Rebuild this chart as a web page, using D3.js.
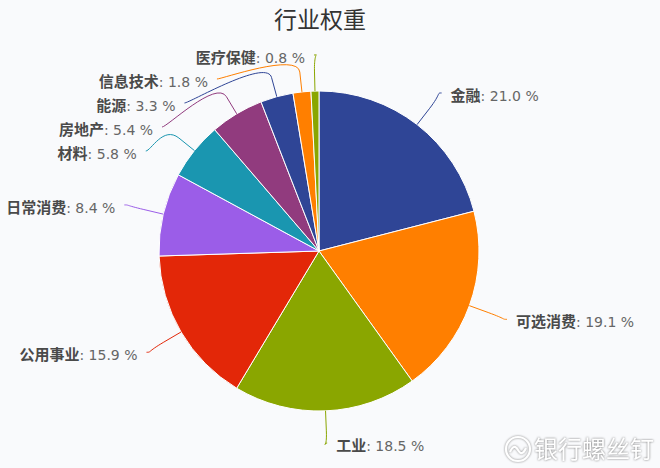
<!DOCTYPE html>
<html><head><meta charset="utf-8">
<script src="https://cdn.jsdelivr.net/npm/d3@7"></script>
<style>
html,body{margin:0;padding:0;background:#f9fafc;}
svg{display:block;}
</style></head>
<body>
<svg id="chart" width="660" height="468"></svg>
<script>
const title = "行业权重";
const categories = ["金融","可选消费","工业","公用事业","日常消费","材料","房地产","能源","信息技术","医疗保健"];
const values = [21.0,19.1,18.5,15.9,8.4,5.8,5.4,3.3,1.8,0.8];
const palette = ["#2f4596","#ff7f00","#8aa600","#e32708","#9b5de8","#1a96b0","#913b7e"];
const watermark = "银行螺丝钉";

(function(){
const W = 660, H = 468;
const cx = 319, cy = 251, r = 160, dist = 40, R = r + dist;
const svg = d3.select("#chart");
svg.append("rect").attr("width",W).attr("height",H).attr("fill","#f9fafc");

svg.append("text").attr("x",320).attr("y",28).attr("text-anchor","middle")
  .attr("font-family","'Noto Sans CJK SC','DejaVu Sans',sans-serif").attr("font-size",23)
  .attr("fill","#333").text(title);

const data = categories.map((c,i)=>({name:c,value:values[i],color:palette[i%palette.length]}));
const pie = d3.pie().value(d=>d.value).sort(null).startAngle(0).endAngle(2*Math.PI);
const arcs = pie(data);
const arc = d3.arc().innerRadius(0).outerRadius(r);
const g = svg.append("g").attr("transform",`translate(${cx},${cy})`);
g.selectAll("path").data(arcs).join("path")
  .attr("d",arc).attr("fill",d=>d.data.color)
  .attr("stroke","#ffffff").attr("stroke-width",1).attr("stroke-linejoin","round");

const pt = (a,rho)=>({x:cx+rho*Math.sin(a), y:cy-rho*Math.cos(a)});
const labels = arcs.map(d=>{
  const a=(d.startAngle+d.endAngle)/2;
  const nat=pt(a,R);
  return {d, a, left: a>Math.PI, natY: nat.y, y: nat.y};
});
const yTop = 55, yBottom = 443, h = 24;
["L","R"].forEach(side=>{
  const arr = labels.filter(l=> (side==="L")===l.left).sort((a,b)=>a.natY-b.natY);
  let prev = -Infinity;
  arr.forEach(l=>{ l.y=Math.max(l.natY, yTop, prev+h); prev=l.y; });
  let next = Infinity;
  for(let i=arr.length-1;i>=0;i--){ const l=arr[i]; l.y=Math.min(l.y,yBottom,next-h); next=l.y; }
});
const getX=(y,left)=>{ const dy=Math.max(-R,Math.min(R,y-cy)); return cx+(left?-1:1)*Math.sqrt(R*R-dy*dy); };
const fam = "'DejaVu Sans','Noto Sans CJK SC',sans-serif";
labels.forEach(l=>{
  const useY = (l.y<=yTop+2 || l.y>=yBottom-2) ? l.natY : l.y;
  const x = getX(useY, l.left);
  const y = l.y;
  const brk = pt(l.a, r+dist/2), touch = pt(l.a, r);
  const c1x = x + (l.left? 5 : -5);
  const p = `M${x},${y} C${c1x},${y} ${2*brk.x-touch.x},${2*brk.y-touch.y} ${brk.x},${brk.y} L${touch.x},${touch.y}`;
  svg.append("path").attr("d",p).attr("fill","none").attr("stroke",l.d.data.color).attr("stroke-width",1);
  const t = svg.append("text").attr("x", x + (l.left?-9:9)).attr("y", y+8)
    .attr("text-anchor", l.left?"end":"start").attr("font-family",fam).attr("font-size",14);
  t.append("tspan").attr("font-weight","bold").attr("font-size",15).attr("fill","#4a4a4a").text(l.d.data.name);
  t.append("tspan").attr("fill","#666").text(": " + d3.format(".1f")(l.d.data.value) + " %");
});

const wm = svg.append("g");
wm.append("circle").attr("cx",518).attr("cy",449).attr("r",12).attr("fill","none")
  .attr("stroke","#fff").attr("stroke-width",2.2).style("filter","drop-shadow(0 0 1px #888)");
wm.append("path").attr("d","M510,452 q4,-9 8,-2 q4,7 8,-2").attr("fill","none")
  .attr("stroke","#fff").attr("stroke-width",2.2).style("filter","drop-shadow(0 0 1px #888)");
wm.append("text").attr("x",534).attr("y",458).attr("font-family","'Noto Sans CJK SC',sans-serif")
  .attr("font-size",24).attr("fill","#fff").style("filter","drop-shadow(0 0 1px #777)").text(watermark);
})();
</script>
</body></html>
